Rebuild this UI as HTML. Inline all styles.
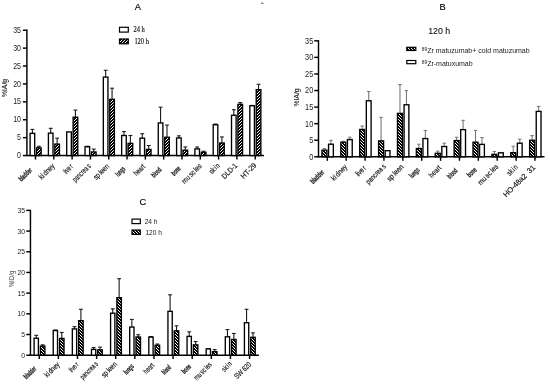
<!DOCTYPE html>
<html><head><meta charset="utf-8"><title>Biodistribution</title>
<style>html,body{margin:0;padding:0;background:#fff;width:550px;height:384px;overflow:hidden}svg{display:block}</style>
</head><body>
<svg width="550" height="384" viewBox="0 0 550 384">
<defs>
<pattern id="hA" patternUnits="userSpaceOnUse" x="0" y="0" width="3" height="3"><rect width="3" height="3" fill="#000"/><rect x="0" y="2" width="1" height="1" fill="#fff"/><rect x="1" y="1" width="1" height="1" fill="#fff"/><rect x="2" y="0" width="1" height="1" fill="#fff"/></pattern>
<pattern id="hB" patternUnits="userSpaceOnUse" x="0" y="0" width="3" height="3"><rect width="3" height="3" fill="#000"/><rect x="0" y="0" width="1" height="1" fill="#fff"/><rect x="1" y="1" width="1" height="1" fill="#fff"/><rect x="2" y="2" width="1" height="1" fill="#fff"/></pattern>
<pattern id="hC" patternUnits="userSpaceOnUse" x="0" y="0" width="3" height="3"><rect width="3" height="3" fill="#000"/><rect x="0" y="0" width="1" height="1" fill="#fff"/><rect x="1" y="1" width="1" height="1" fill="#fff"/><rect x="2" y="2" width="1" height="1" fill="#fff"/></pattern>
</defs>
<style>
.ax{stroke:#000;stroke-width:1.45;fill:none}
.bar{stroke:#000;stroke-width:1.35}
.eb{stroke:#1a1a1a;stroke-width:1.1}
.ebg{stroke:#7a7a7a;stroke-width:1.1}
.tl{font-family:'Liberation Sans', Arial, sans-serif;fill:#222}
.xl{font-family:'Liberation Sans', Arial, sans-serif;font-size:7.6px;fill:#1a1a1a;stroke:#1a1a1a;stroke-width:0.2px}
.xb{font-weight:bold}
.yt{font-family:'Liberation Sans', Arial, sans-serif;font-size:6.8px;fill:#1a1a1a;stroke:#1a1a1a;stroke-width:0.12px}
.ti{font-family:'Liberation Sans', Arial, sans-serif;font-size:9.3px;fill:#000;stroke:#000;stroke-width:0.15px}
.ti2{font-family:'Liberation Sans', Arial, sans-serif;font-size:8.8px;fill:#111;stroke:#111;stroke-width:0.1px}
.lg{font-family:'Liberation Sans', Arial, sans-serif;font-size:7px;fill:#222}
.lgs{font-family:'Liberation Serif', 'Times New Roman', serif;font-size:7.6px;fill:#111;stroke:#111;stroke-width:0.15px}
</style>
<rect width="550" height="384" fill="#fff"/>
<!-- Chart A -->
<text x="137.9" y="9.7" class="ti" text-anchor="middle">A</text>
<rect x="119.5" y="27.3" width="8.8" height="4.8" fill="#fff" stroke="#000" stroke-width="1.2"/>
<text x="133.5" y="32.2" class="lgs" textLength="11.3" lengthAdjust="spacingAndGlyphs">24 h</text>
<rect x="119.5" y="39" width="8.8" height="4.8" fill="url(#hA)" stroke="#000" stroke-width="1.2"/>
<text x="134.4" y="43.6" class="lgs" textLength="14.5" lengthAdjust="spacingAndGlyphs">120 h</text>
<rect x="261" y="2.7" width="2.5" height="1.1" fill="#666"/>
<text x="6.6" y="88" class="yt" text-anchor="middle" transform="rotate(-90 6.6 88)">%IA/g</text>
<line x1="26.90" y1="29.62" x2="26.90" y2="156.15" class="ax"/>
<line x1="22.90" y1="155.55" x2="26.90" y2="155.55" class="ax"/>
<text x="21.00" y="158.15" class="tl" font-size="8.3" text-anchor="end" textLength="3.92" lengthAdjust="spacingAndGlyphs">0</text>
<line x1="22.90" y1="137.65" x2="26.90" y2="137.65" class="ax"/>
<text x="21.00" y="140.25" class="tl" font-size="8.3" text-anchor="end" textLength="3.92" lengthAdjust="spacingAndGlyphs">5</text>
<line x1="22.90" y1="119.74" x2="26.90" y2="119.74" class="ax"/>
<text x="21.00" y="122.34" class="tl" font-size="8.3" text-anchor="end" textLength="7.85" lengthAdjust="spacingAndGlyphs">10</text>
<line x1="22.90" y1="101.84" x2="26.90" y2="101.84" class="ax"/>
<text x="21.00" y="104.44" class="tl" font-size="8.3" text-anchor="end" textLength="7.85" lengthAdjust="spacingAndGlyphs">15</text>
<line x1="22.90" y1="83.93" x2="26.90" y2="83.93" class="ax"/>
<text x="21.00" y="86.53" class="tl" font-size="8.3" text-anchor="end" textLength="7.85" lengthAdjust="spacingAndGlyphs">20</text>
<line x1="22.90" y1="66.03" x2="26.90" y2="66.03" class="ax"/>
<text x="21.00" y="68.62" class="tl" font-size="8.3" text-anchor="end" textLength="7.85" lengthAdjust="spacingAndGlyphs">25</text>
<line x1="22.90" y1="48.12" x2="26.90" y2="48.12" class="ax"/>
<text x="21.00" y="50.72" class="tl" font-size="8.3" text-anchor="end" textLength="7.85" lengthAdjust="spacingAndGlyphs">30</text>
<line x1="22.90" y1="30.22" x2="26.90" y2="30.22" class="ax"/>
<text x="21.00" y="32.82" class="tl" font-size="8.3" text-anchor="end" textLength="7.85" lengthAdjust="spacingAndGlyphs">35</text>
<line x1="26.30" y1="155.55" x2="264.00" y2="155.55" class="ax"/>
<line x1="32.40" y1="129.41" x2="32.40" y2="133.35" class="eb"/>
<line x1="30.50" y1="129.41" x2="34.30" y2="129.41" class="eb cap"/>
<rect x="30.10" y="133.35" width="4.60" height="22.20" fill="#fff" class="bar"/>
<line x1="38.83" y1="146.24" x2="38.83" y2="147.85" class="eb"/>
<line x1="36.93" y1="146.24" x2="40.73" y2="146.24" class="eb cap"/>
<rect x="36.50" y="147.85" width="4.65" height="7.70" fill="url(#hA)" class="bar"/>
<line x1="35.50" y1="155.55" x2="35.50" y2="159.55" class="ax"/>
<text id="labA0" x="32.57" y="170.86" class="xl xb" text-anchor="end" textLength="15.56" lengthAdjust="spacingAndGlyphs" transform="rotate(-45 32.57 170.86)">bladder</text>
<line x1="50.71" y1="128.33" x2="50.71" y2="133.17" class="eb"/>
<line x1="48.81" y1="128.33" x2="52.61" y2="128.33" class="eb cap"/>
<rect x="48.41" y="133.17" width="4.60" height="22.38" fill="#fff" class="bar"/>
<line x1="57.14" y1="138.18" x2="57.14" y2="144.09" class="eb"/>
<line x1="55.24" y1="138.18" x2="59.04" y2="138.18" class="eb cap"/>
<rect x="54.81" y="144.09" width="4.65" height="11.46" fill="url(#hA)" class="bar"/>
<line x1="53.81" y1="155.55" x2="53.81" y2="159.55" class="ax"/>
<text id="labA1" x="55.24" y="166.51" class="xl" text-anchor="end" textLength="18.96" lengthAdjust="spacingAndGlyphs" transform="rotate(-45 55.24 166.51)"><tspan>ki</tspan><tspan dx="1.3">dney</tspan></text>
<rect x="66.72" y="131.92" width="4.60" height="23.63" fill="#fff" class="bar"/>
<line x1="75.44" y1="110.07" x2="75.44" y2="117.23" class="eb"/>
<line x1="73.54" y1="110.07" x2="77.34" y2="110.07" class="eb cap"/>
<rect x="73.12" y="117.23" width="4.65" height="38.32" fill="url(#hA)" class="bar"/>
<line x1="72.12" y1="155.55" x2="72.12" y2="159.55" class="ax"/>
<text id="labA2" x="73.56" y="167.13" class="xl" text-anchor="end" textLength="10.35" lengthAdjust="spacingAndGlyphs" transform="rotate(-45 73.56 167.13)"><tspan>live</tspan><tspan dx="1.3">r</tspan></text>
<line x1="87.33" y1="146.24" x2="87.33" y2="146.78" class="eb"/>
<line x1="85.43" y1="146.24" x2="89.23" y2="146.24" class="eb cap"/>
<rect x="85.03" y="146.78" width="4.60" height="8.77" fill="#fff" class="bar"/>
<line x1="93.75" y1="149.10" x2="93.75" y2="151.97" class="eb"/>
<line x1="91.85" y1="149.10" x2="95.66" y2="149.10" class="eb cap"/>
<rect x="91.43" y="151.97" width="4.65" height="3.58" fill="url(#hA)" class="bar"/>
<line x1="90.43" y1="155.55" x2="90.43" y2="159.55" class="ax"/>
<text id="labA3" x="91.41" y="166.57" class="xl" text-anchor="end" textLength="22.66" lengthAdjust="spacingAndGlyphs" transform="rotate(-45 91.41 166.57)"><tspan>pancrea</tspan><tspan dx="1.6">s</tspan></text>
<line x1="105.64" y1="70.32" x2="105.64" y2="77.13" class="eb"/>
<line x1="103.74" y1="70.32" x2="107.54" y2="70.32" class="eb cap"/>
<rect x="103.34" y="77.13" width="4.60" height="78.42" fill="#fff" class="bar"/>
<line x1="112.06" y1="88.23" x2="112.06" y2="99.33" class="eb"/>
<line x1="110.16" y1="88.23" x2="113.97" y2="88.23" class="eb cap"/>
<rect x="109.74" y="99.33" width="4.65" height="56.22" fill="url(#hA)" class="bar"/>
<line x1="108.74" y1="155.55" x2="108.74" y2="159.55" class="ax"/>
<text id="labA4" x="109.57" y="166.92" class="xl" text-anchor="end" textLength="18.95" lengthAdjust="spacingAndGlyphs" transform="rotate(-45 109.57 166.92)"><tspan>sp</tspan><tspan dx="1.3">leen</tspan></text>
<line x1="123.95" y1="131.56" x2="123.95" y2="135.50" class="eb"/>
<line x1="122.05" y1="131.56" x2="125.85" y2="131.56" class="eb cap"/>
<rect x="121.65" y="135.50" width="4.60" height="20.05" fill="#fff" class="bar"/>
<line x1="130.38" y1="135.50" x2="130.38" y2="143.37" class="eb"/>
<line x1="128.47" y1="135.50" x2="132.28" y2="135.50" class="eb cap"/>
<rect x="128.05" y="143.37" width="4.65" height="12.18" fill="url(#hA)" class="bar"/>
<line x1="127.05" y1="155.55" x2="127.05" y2="159.55" class="ax"/>
<text id="labA5" x="125.89" y="169.46" class="xl xb" text-anchor="end" textLength="10.63" lengthAdjust="spacingAndGlyphs" transform="rotate(-45 125.89 169.46)">lungs</text>
<line x1="142.26" y1="133.71" x2="142.26" y2="138.18" class="eb"/>
<line x1="140.36" y1="133.71" x2="144.16" y2="133.71" class="eb cap"/>
<rect x="139.96" y="138.18" width="4.60" height="17.37" fill="#fff" class="bar"/>
<line x1="148.69" y1="145.52" x2="148.69" y2="149.46" class="eb"/>
<line x1="146.78" y1="145.52" x2="150.59" y2="145.52" class="eb cap"/>
<rect x="146.36" y="149.46" width="4.65" height="6.09" fill="url(#hA)" class="bar"/>
<line x1="145.36" y1="155.55" x2="145.36" y2="159.55" class="ax"/>
<text id="labA6" x="145.65" y="167.26" class="xl" text-anchor="end" textLength="12.82" lengthAdjust="spacingAndGlyphs" transform="rotate(-45 145.65 167.26)">heart</text>
<line x1="160.57" y1="107.21" x2="160.57" y2="122.96" class="eb"/>
<line x1="158.67" y1="107.21" x2="162.47" y2="107.21" class="eb cap"/>
<rect x="158.27" y="122.96" width="4.60" height="32.59" fill="#fff" class="bar"/>
<line x1="167.00" y1="125.11" x2="167.00" y2="137.29" class="eb"/>
<line x1="165.09" y1="125.11" x2="168.90" y2="125.11" class="eb cap"/>
<rect x="164.67" y="137.29" width="4.65" height="18.26" fill="url(#hA)" class="bar"/>
<line x1="163.67" y1="155.55" x2="163.67" y2="159.55" class="ax"/>
<text id="labA7" x="162.02" y="170.30" class="xl xb" text-anchor="end" textLength="10.91" lengthAdjust="spacingAndGlyphs" transform="rotate(-45 162.02 170.30)">blood</text>
<line x1="178.88" y1="135.85" x2="178.88" y2="138.00" class="eb"/>
<line x1="176.98" y1="135.85" x2="180.78" y2="135.85" class="eb cap"/>
<rect x="176.58" y="138.00" width="4.60" height="17.55" fill="#fff" class="bar"/>
<line x1="185.31" y1="146.96" x2="185.31" y2="150.18" class="eb"/>
<line x1="183.41" y1="146.96" x2="187.21" y2="146.96" class="eb cap"/>
<rect x="182.98" y="150.18" width="4.65" height="5.37" fill="url(#hA)" class="bar"/>
<line x1="181.98" y1="155.55" x2="181.98" y2="159.55" class="ax"/>
<text id="labA8" x="181.21" y="169.07" class="xl xb" text-anchor="end" textLength="10.00" lengthAdjust="spacingAndGlyphs" transform="rotate(-45 181.21 169.07)">bone</text>
<line x1="197.19" y1="146.96" x2="197.19" y2="148.93" class="eb"/>
<line x1="195.29" y1="146.96" x2="199.09" y2="146.96" class="eb cap"/>
<rect x="194.89" y="148.93" width="4.60" height="6.62" fill="#fff" class="bar"/>
<line x1="203.62" y1="151.25" x2="203.62" y2="152.33" class="eb"/>
<line x1="201.72" y1="151.25" x2="205.52" y2="151.25" class="eb cap"/>
<rect x="201.29" y="152.33" width="4.65" height="3.22" fill="url(#hA)" class="bar"/>
<line x1="200.29" y1="155.55" x2="200.29" y2="159.55" class="ax"/>
<text id="labA9" x="202.24" y="166.60" class="xl" text-anchor="end" textLength="24.93" lengthAdjust="spacingAndGlyphs" transform="rotate(-45 202.24 166.60)"><tspan>mu</tspan><tspan dx="1.3">sc</tspan><tspan dx="1.3">les</tspan></text>
<line x1="215.50" y1="124.04" x2="215.50" y2="124.75" class="eb"/>
<line x1="213.60" y1="124.04" x2="217.40" y2="124.04" class="eb cap"/>
<rect x="213.20" y="124.75" width="4.60" height="30.80" fill="#fff" class="bar"/>
<line x1="221.93" y1="136.93" x2="221.93" y2="143.02" class="eb"/>
<line x1="220.03" y1="136.93" x2="223.83" y2="136.93" class="eb cap"/>
<rect x="219.60" y="143.02" width="4.65" height="12.53" fill="url(#hA)" class="bar"/>
<line x1="218.60" y1="155.55" x2="218.60" y2="159.55" class="ax"/>
<text id="labA10" x="220.27" y="166.18" class="xl" text-anchor="end" textLength="11.65" lengthAdjust="spacingAndGlyphs" transform="rotate(-45 220.27 166.18)"><tspan>sk</tspan><tspan dx="0.9">i</tspan><tspan dx="0.9">n</tspan></text>
<line x1="233.81" y1="109.71" x2="233.81" y2="115.26" class="eb"/>
<line x1="231.91" y1="109.71" x2="235.71" y2="109.71" class="eb cap"/>
<rect x="231.51" y="115.26" width="4.60" height="40.29" fill="#fff" class="bar"/>
<line x1="240.24" y1="102.55" x2="240.24" y2="104.34" class="eb"/>
<line x1="238.34" y1="102.55" x2="242.14" y2="102.55" class="eb cap"/>
<rect x="237.91" y="104.34" width="4.65" height="51.21" fill="url(#hA)" class="bar"/>
<line x1="236.91" y1="155.55" x2="236.91" y2="159.55" class="ax"/>
<text id="labA11" x="237.83" y="166.23" class="xl" text-anchor="end" textLength="18.64" lengthAdjust="spacingAndGlyphs" transform="rotate(-45 237.83 166.23)">DLD-1</text>
<line x1="252.12" y1="105.42" x2="252.12" y2="105.77" class="eb"/>
<line x1="250.22" y1="105.42" x2="254.02" y2="105.42" class="eb cap"/>
<rect x="249.82" y="105.77" width="4.60" height="49.78" fill="#fff" class="bar"/>
<line x1="258.54" y1="84.29" x2="258.54" y2="89.66" class="eb"/>
<line x1="256.64" y1="84.29" x2="260.44" y2="84.29" class="eb cap"/>
<rect x="256.22" y="89.66" width="4.65" height="65.89" fill="url(#hA)" class="bar"/>
<line x1="255.22" y1="155.55" x2="255.22" y2="159.55" class="ax"/>
<text id="labA12" x="256.98" y="165.96" class="xl" text-anchor="end" textLength="18.63" lengthAdjust="spacingAndGlyphs" transform="rotate(-45 256.98 165.96)">HT-29</text>
<!-- Chart B -->
<text x="442.6" y="9.7" class="ti" text-anchor="middle">B</text>
<text x="428.2" y="33.5" class="ti2">120 h</text>
<rect x="406.8" y="47.3" width="9" height="3.2" fill="url(#hB)" stroke="#000" stroke-width="1.2"/>
<text x="421.8" y="53.3" class="lg"><tspan font-size="4.8px" dy="-2.6">89</tspan><tspan dy="2.6">Zr matuzumab+ cold matuzumab</tspan></text>
<rect x="406.8" y="60.5" width="9" height="3.2" fill="#fff" stroke="#000" stroke-width="1.2"/>
<text x="421.8" y="66.1" class="lg"><tspan font-size="4.8px" dy="-2.6">89</tspan><tspan dy="2.6">Zr-matuxumab</tspan></text>
<text x="299.4" y="97.5" class="yt" text-anchor="middle" transform="rotate(-90 299.4 97.5)">%IA/g</text>
<line x1="318.50" y1="40.21" x2="318.50" y2="157.40" class="ax"/>
<line x1="314.20" y1="156.80" x2="318.50" y2="156.80" class="ax"/>
<text x="313.20" y="159.70" class="tl" font-size="8.6" text-anchor="end" textLength="4.06" lengthAdjust="spacingAndGlyphs">0</text>
<line x1="314.20" y1="140.23" x2="318.50" y2="140.23" class="ax"/>
<text x="313.20" y="143.13" class="tl" font-size="8.6" text-anchor="end" textLength="4.06" lengthAdjust="spacingAndGlyphs">5</text>
<line x1="314.20" y1="123.66" x2="318.50" y2="123.66" class="ax"/>
<text x="313.20" y="126.56" class="tl" font-size="8.6" text-anchor="end" textLength="8.13" lengthAdjust="spacingAndGlyphs">10</text>
<line x1="314.20" y1="107.09" x2="318.50" y2="107.09" class="ax"/>
<text x="313.20" y="109.99" class="tl" font-size="8.6" text-anchor="end" textLength="8.13" lengthAdjust="spacingAndGlyphs">15</text>
<line x1="314.20" y1="90.52" x2="318.50" y2="90.52" class="ax"/>
<text x="313.20" y="93.42" class="tl" font-size="8.6" text-anchor="end" textLength="8.13" lengthAdjust="spacingAndGlyphs">20</text>
<line x1="314.20" y1="73.95" x2="318.50" y2="73.95" class="ax"/>
<text x="313.20" y="76.85" class="tl" font-size="8.6" text-anchor="end" textLength="8.13" lengthAdjust="spacingAndGlyphs">25</text>
<line x1="314.20" y1="57.38" x2="318.50" y2="57.38" class="ax"/>
<text x="313.20" y="60.28" class="tl" font-size="8.6" text-anchor="end" textLength="8.13" lengthAdjust="spacingAndGlyphs">30</text>
<line x1="314.20" y1="40.81" x2="318.50" y2="40.81" class="ax"/>
<text x="313.20" y="43.71" class="tl" font-size="8.6" text-anchor="end" textLength="8.13" lengthAdjust="spacingAndGlyphs">35</text>
<line x1="317.90" y1="156.80" x2="544.50" y2="156.80" class="ax"/>
<line x1="324.45" y1="148.52" x2="324.45" y2="150.17" class="ebg"/>
<line x1="322.75" y1="148.52" x2="326.15" y2="148.52" class="ebg cap"/>
<rect x="321.95" y="150.17" width="5.00" height="6.63" fill="url(#hB)" class="bar"/>
<line x1="330.95" y1="140.40" x2="330.95" y2="144.21" class="ebg"/>
<line x1="329.25" y1="140.40" x2="332.65" y2="140.40" class="ebg cap"/>
<rect x="328.55" y="144.21" width="4.80" height="12.59" fill="#fff" class="bar"/>
<line x1="327.30" y1="156.80" x2="327.30" y2="160.80" class="ax"/>
<text id="labB0" x="324.67" y="172.78" class="xl xb" text-anchor="end" textLength="16.26" lengthAdjust="spacingAndGlyphs" transform="rotate(-45 324.67 172.78)">bladder</text>
<line x1="343.33" y1="141.39" x2="343.33" y2="142.22" class="ebg"/>
<line x1="341.63" y1="141.39" x2="345.03" y2="141.39" class="ebg cap"/>
<rect x="340.83" y="142.22" width="5.00" height="14.58" fill="url(#hB)" class="bar"/>
<line x1="349.83" y1="137.25" x2="349.83" y2="139.57" class="ebg"/>
<line x1="348.13" y1="137.25" x2="351.53" y2="137.25" class="ebg cap"/>
<rect x="347.43" y="139.57" width="4.80" height="17.23" fill="#fff" class="bar"/>
<line x1="346.18" y1="156.80" x2="346.18" y2="160.80" class="ax"/>
<text id="labB1" x="347.77" y="167.61" class="xl" text-anchor="end" textLength="19.30" lengthAdjust="spacingAndGlyphs" transform="rotate(-45 347.77 167.61)"><tspan>ki</tspan><tspan dx="1.3">dney</tspan></text>
<line x1="362.21" y1="125.98" x2="362.21" y2="129.46" class="ebg"/>
<line x1="360.51" y1="125.98" x2="363.91" y2="125.98" class="ebg cap"/>
<rect x="359.71" y="129.46" width="5.00" height="27.34" fill="url(#hB)" class="bar"/>
<line x1="368.71" y1="91.51" x2="368.71" y2="100.79" class="ebg"/>
<line x1="367.01" y1="91.51" x2="370.41" y2="91.51" class="ebg cap"/>
<rect x="366.31" y="100.79" width="4.80" height="56.01" fill="#fff" class="bar"/>
<line x1="365.06" y1="156.80" x2="365.06" y2="160.80" class="ax"/>
<text id="labB2" x="366.56" y="168.70" class="xl" text-anchor="end" textLength="11.55" lengthAdjust="spacingAndGlyphs" transform="rotate(-45 366.56 168.70)"><tspan>live</tspan><tspan dx="1.3">r</tspan></text>
<line x1="381.09" y1="117.36" x2="381.09" y2="140.89" class="ebg"/>
<line x1="379.39" y1="117.36" x2="382.79" y2="117.36" class="ebg cap"/>
<rect x="378.59" y="140.89" width="5.00" height="15.91" fill="url(#hB)" class="bar"/>
<rect x="385.19" y="150.67" width="4.80" height="6.13" fill="#fff" class="bar"/>
<line x1="383.94" y1="156.80" x2="383.94" y2="160.80" class="ax"/>
<text id="labB3" x="386.26" y="167.08" class="xl" text-anchor="end" textLength="24.91" lengthAdjust="spacingAndGlyphs" transform="rotate(-45 386.26 167.08)"><tspan>pancrea</tspan><tspan dx="1.6">s</tspan></text>
<line x1="399.97" y1="84.55" x2="399.97" y2="113.39" class="ebg"/>
<line x1="398.27" y1="84.55" x2="401.67" y2="84.55" class="ebg cap"/>
<rect x="397.47" y="113.39" width="5.00" height="43.41" fill="url(#hB)" class="bar"/>
<line x1="406.47" y1="90.52" x2="406.47" y2="104.77" class="ebg"/>
<line x1="404.77" y1="90.52" x2="408.17" y2="90.52" class="ebg cap"/>
<rect x="404.07" y="104.77" width="4.80" height="52.03" fill="#fff" class="bar"/>
<line x1="402.82" y1="156.80" x2="402.82" y2="160.80" class="ax"/>
<text id="labB4" x="404.10" y="167.42" class="xl" text-anchor="end" textLength="20.25" lengthAdjust="spacingAndGlyphs" transform="rotate(-45 404.10 167.42)"><tspan>sp</tspan><tspan dx="1.3">leen</tspan></text>
<line x1="418.85" y1="144.21" x2="418.85" y2="148.52" class="ebg"/>
<line x1="417.15" y1="144.21" x2="420.55" y2="144.21" class="ebg cap"/>
<rect x="416.35" y="148.52" width="5.00" height="8.28" fill="url(#hB)" class="bar"/>
<line x1="425.35" y1="130.45" x2="425.35" y2="138.57" class="ebg"/>
<line x1="423.65" y1="130.45" x2="427.05" y2="130.45" class="ebg cap"/>
<rect x="422.95" y="138.57" width="4.80" height="18.23" fill="#fff" class="bar"/>
<line x1="421.70" y1="156.80" x2="421.70" y2="160.80" class="ax"/>
<text id="labB5" x="420.15" y="170.50" class="xl xb" text-anchor="end" textLength="11.47" lengthAdjust="spacingAndGlyphs" transform="rotate(-45 420.15 170.50)">lungs</text>
<line x1="437.73" y1="151.17" x2="437.73" y2="153.32" class="ebg"/>
<line x1="436.03" y1="151.17" x2="439.43" y2="151.17" class="ebg cap"/>
<rect x="435.23" y="153.32" width="5.00" height="3.48" fill="url(#hB)" class="bar"/>
<line x1="444.23" y1="143.21" x2="444.23" y2="146.53" class="ebg"/>
<line x1="442.53" y1="143.21" x2="445.93" y2="143.21" class="ebg cap"/>
<rect x="441.83" y="146.53" width="4.80" height="10.27" fill="#fff" class="bar"/>
<line x1="440.58" y1="156.80" x2="440.58" y2="160.80" class="ax"/>
<text id="labB6" x="441.68" y="168.42" class="xl" text-anchor="end" textLength="13.86" lengthAdjust="spacingAndGlyphs" transform="rotate(-45 441.68 168.42)">heart</text>
<line x1="456.61" y1="137.25" x2="456.61" y2="140.56" class="ebg"/>
<line x1="454.91" y1="137.25" x2="458.31" y2="137.25" class="ebg cap"/>
<rect x="454.11" y="140.56" width="5.00" height="16.24" fill="url(#hB)" class="bar"/>
<line x1="463.11" y1="120.35" x2="463.11" y2="129.63" class="ebg"/>
<line x1="461.41" y1="120.35" x2="464.81" y2="120.35" class="ebg cap"/>
<rect x="460.71" y="129.63" width="4.80" height="27.17" fill="#fff" class="bar"/>
<line x1="459.46" y1="156.80" x2="459.46" y2="160.80" class="ax"/>
<text id="labB7" x="458.17" y="171.08" class="xl xb" text-anchor="end" textLength="11.42" lengthAdjust="spacingAndGlyphs" transform="rotate(-45 458.17 171.08)">blood</text>
<line x1="475.49" y1="130.45" x2="475.49" y2="142.22" class="ebg"/>
<line x1="473.79" y1="130.45" x2="477.19" y2="130.45" class="ebg cap"/>
<rect x="472.99" y="142.22" width="5.00" height="14.58" fill="url(#hB)" class="bar"/>
<line x1="481.99" y1="137.58" x2="481.99" y2="144.37" class="ebg"/>
<line x1="480.29" y1="137.58" x2="483.69" y2="137.58" class="ebg cap"/>
<rect x="479.59" y="144.37" width="4.80" height="12.43" fill="#fff" class="bar"/>
<line x1="478.34" y1="156.80" x2="478.34" y2="160.80" class="ax"/>
<text id="labB8" x="477.16" y="170.46" class="xl xb" text-anchor="end" textLength="10.42" lengthAdjust="spacingAndGlyphs" transform="rotate(-45 477.16 170.46)">bone</text>
<line x1="494.37" y1="151.50" x2="494.37" y2="154.41" class="ebg"/>
<line x1="492.67" y1="151.50" x2="496.07" y2="151.50" class="ebg cap"/>
<rect x="491.87" y="154.41" width="5.00" height="2.39" fill="url(#hB)" class="bar"/>
<line x1="500.87" y1="152.49" x2="500.87" y2="152.82" class="ebg"/>
<line x1="499.17" y1="152.49" x2="502.57" y2="152.49" class="ebg cap"/>
<rect x="498.47" y="152.82" width="4.80" height="3.98" fill="#fff" class="bar"/>
<line x1="497.22" y1="156.80" x2="497.22" y2="160.80" class="ax"/>
<text id="labB9" x="498.88" y="167.24" class="xl" text-anchor="end" textLength="25.78" lengthAdjust="spacingAndGlyphs" transform="rotate(-45 498.88 167.24)"><tspan>mu</tspan><tspan dx="1.3">sc</tspan><tspan dx="1.3">les</tspan></text>
<line x1="513.25" y1="146.20" x2="513.25" y2="152.66" class="ebg"/>
<line x1="511.55" y1="146.20" x2="514.95" y2="146.20" class="ebg cap"/>
<rect x="510.75" y="152.66" width="5.00" height="4.14" fill="url(#hB)" class="bar"/>
<line x1="519.75" y1="139.24" x2="519.75" y2="143.21" class="ebg"/>
<line x1="518.05" y1="139.24" x2="521.45" y2="139.24" class="ebg cap"/>
<rect x="517.35" y="143.21" width="4.80" height="13.59" fill="#fff" class="bar"/>
<line x1="516.10" y1="156.80" x2="516.10" y2="160.80" class="ax"/>
<text id="labB10" x="518.27" y="167.63" class="xl" text-anchor="end" textLength="12.06" lengthAdjust="spacingAndGlyphs" transform="rotate(-45 518.27 167.63)"><tspan>sk</tspan><tspan dx="0.9">i</tspan><tspan dx="0.9">n</tspan></text>
<line x1="532.13" y1="135.59" x2="532.13" y2="140.23" class="ebg"/>
<line x1="530.43" y1="135.59" x2="533.83" y2="135.59" class="ebg cap"/>
<rect x="529.63" y="140.23" width="5.00" height="16.57" fill="url(#hB)" class="bar"/>
<line x1="538.63" y1="106.43" x2="538.63" y2="111.40" class="ebg"/>
<line x1="536.93" y1="106.43" x2="540.33" y2="106.43" class="ebg cap"/>
<rect x="536.23" y="111.40" width="4.80" height="45.40" fill="#fff" class="bar"/>
<line x1="534.98" y1="156.80" x2="534.98" y2="160.80" class="ax"/>
<text id="labB11" x="535.88" y="168.00" class="xl" text-anchor="end" textLength="41.81" lengthAdjust="spacingAndGlyphs" transform="rotate(-45 535.88 168.00)"><tspan>HO-48a2</tspan><tspan dx="4.0">31</tspan></text>
<!-- Chart C -->
<text x="142.75" y="204.8" class="ti" text-anchor="middle">C</text>
<rect x="132" y="219.1" width="8.3" height="4.5" fill="#fff" stroke="#000" stroke-width="1.2"/>
<text x="144.7" y="224.0" class="lg" style="font-size:6.6px">24 h</text>
<rect x="132" y="230" width="8.3" height="4.4" fill="url(#hC)" stroke="#000" stroke-width="1.2"/>
<text x="145.4" y="234.9" class="lg" style="font-size:6.6px">120 h</text>
<text x="13.6" y="279" class="yt" style="font-size:6.7px;fill:#444;stroke:none" textLength="16.6" lengthAdjust="spacingAndGlyphs" text-anchor="middle" transform="rotate(-90 13.6 279)">%ID/g</text>
<line x1="30.45" y1="209.81" x2="30.45" y2="355.80" class="ax"/>
<line x1="26.25" y1="355.20" x2="30.45" y2="355.20" class="ax"/>
<text x="25.05" y="357.80" class="tl" font-size="8.0" text-anchor="end" textLength="3.78" lengthAdjust="spacingAndGlyphs">0</text>
<line x1="26.25" y1="334.51" x2="30.45" y2="334.51" class="ax"/>
<text x="25.05" y="337.12" class="tl" font-size="8.0" text-anchor="end" textLength="3.78" lengthAdjust="spacingAndGlyphs">5</text>
<line x1="26.25" y1="313.83" x2="30.45" y2="313.83" class="ax"/>
<text x="25.05" y="316.43" class="tl" font-size="8.0" text-anchor="end" textLength="7.56" lengthAdjust="spacingAndGlyphs">10</text>
<line x1="26.25" y1="293.14" x2="30.45" y2="293.14" class="ax"/>
<text x="25.05" y="295.75" class="tl" font-size="8.0" text-anchor="end" textLength="7.56" lengthAdjust="spacingAndGlyphs">15</text>
<line x1="26.25" y1="272.46" x2="30.45" y2="272.46" class="ax"/>
<text x="25.05" y="275.06" class="tl" font-size="8.0" text-anchor="end" textLength="7.56" lengthAdjust="spacingAndGlyphs">20</text>
<line x1="26.25" y1="251.78" x2="30.45" y2="251.78" class="ax"/>
<text x="25.05" y="254.38" class="tl" font-size="8.0" text-anchor="end" textLength="7.56" lengthAdjust="spacingAndGlyphs">25</text>
<line x1="26.25" y1="231.09" x2="30.45" y2="231.09" class="ax"/>
<text x="25.05" y="233.69" class="tl" font-size="8.0" text-anchor="end" textLength="7.56" lengthAdjust="spacingAndGlyphs">30</text>
<line x1="26.25" y1="210.41" x2="30.45" y2="210.41" class="ax"/>
<text x="25.05" y="213.00" class="tl" font-size="8.0" text-anchor="end" textLength="7.56" lengthAdjust="spacingAndGlyphs">35</text>
<line x1="29.85" y1="355.20" x2="258.90" y2="355.20" class="ax"/>
<line x1="36.25" y1="335.34" x2="36.25" y2="338.24" class="eb"/>
<line x1="34.35" y1="335.34" x2="38.15" y2="335.34" class="eb cap"/>
<rect x="34.10" y="338.24" width="4.30" height="16.96" fill="#fff" class="bar"/>
<line x1="42.65" y1="344.86" x2="42.65" y2="346.10" class="eb"/>
<line x1="40.75" y1="344.86" x2="44.55" y2="344.86" class="eb cap"/>
<rect x="40.40" y="346.10" width="4.50" height="9.10" fill="url(#hC)" class="bar"/>
<line x1="39.25" y1="355.20" x2="39.25" y2="359.00" class="ax"/>
<text id="labC0" x="36.87" y="369.23" class="xl xb" text-anchor="end" textLength="14.57" lengthAdjust="spacingAndGlyphs" transform="rotate(-45 36.87 369.23)">bladder</text>
<line x1="55.37" y1="329.96" x2="55.37" y2="330.58" class="eb"/>
<line x1="53.47" y1="329.96" x2="57.27" y2="329.96" class="eb cap"/>
<rect x="53.22" y="330.58" width="4.30" height="24.62" fill="#fff" class="bar"/>
<line x1="61.77" y1="332.45" x2="61.77" y2="338.45" class="eb"/>
<line x1="59.87" y1="332.45" x2="63.67" y2="332.45" class="eb cap"/>
<rect x="59.52" y="338.45" width="4.50" height="16.75" fill="url(#hC)" class="bar"/>
<line x1="58.37" y1="355.20" x2="58.37" y2="359.00" class="ax"/>
<text id="labC1" x="60.01" y="365.15" class="xl" text-anchor="end" textLength="17.86" lengthAdjust="spacingAndGlyphs" transform="rotate(-45 60.01 365.15)"><tspan>ki</tspan><tspan dx="1.3">dney</tspan></text>
<line x1="74.49" y1="326.65" x2="74.49" y2="328.93" class="eb"/>
<line x1="72.59" y1="326.65" x2="76.39" y2="326.65" class="eb cap"/>
<rect x="72.34" y="328.93" width="4.30" height="26.27" fill="#fff" class="bar"/>
<line x1="80.89" y1="309.28" x2="80.89" y2="320.66" class="eb"/>
<line x1="78.99" y1="309.28" x2="82.79" y2="309.28" class="eb cap"/>
<rect x="78.64" y="320.66" width="4.50" height="34.54" fill="url(#hC)" class="bar"/>
<line x1="77.49" y1="355.20" x2="77.49" y2="359.00" class="ax"/>
<text id="labC2" x="79.38" y="365.16" class="xl" text-anchor="end" textLength="10.75" lengthAdjust="spacingAndGlyphs" transform="rotate(-45 79.38 365.16)"><tspan>live</tspan><tspan dx="1.3">r</tspan></text>
<line x1="93.61" y1="347.55" x2="93.61" y2="349.41" class="eb"/>
<line x1="91.71" y1="347.55" x2="95.51" y2="347.55" class="eb cap"/>
<rect x="91.46" y="349.41" width="4.30" height="5.79" fill="#fff" class="bar"/>
<line x1="100.01" y1="347.13" x2="100.01" y2="349.82" class="eb"/>
<line x1="98.11" y1="347.13" x2="101.91" y2="347.13" class="eb cap"/>
<rect x="97.76" y="349.82" width="4.50" height="5.38" fill="url(#hC)" class="bar"/>
<line x1="96.61" y1="355.20" x2="96.61" y2="359.00" class="ax"/>
<text id="labC3" x="98.58" y="364.58" class="xl" text-anchor="end" textLength="21.87" lengthAdjust="spacingAndGlyphs" transform="rotate(-45 98.58 364.58)"><tspan>pancrea</tspan><tspan dx="1.6">s</tspan></text>
<line x1="112.73" y1="308.87" x2="112.73" y2="313.21" class="eb"/>
<line x1="110.83" y1="308.87" x2="114.63" y2="308.87" class="eb cap"/>
<rect x="110.58" y="313.21" width="4.30" height="41.99" fill="#fff" class="bar"/>
<line x1="119.13" y1="278.67" x2="119.13" y2="297.70" class="eb"/>
<line x1="117.23" y1="278.67" x2="121.03" y2="278.67" class="eb cap"/>
<rect x="116.88" y="297.70" width="4.50" height="57.50" fill="url(#hC)" class="bar"/>
<line x1="115.73" y1="355.20" x2="115.73" y2="359.00" class="ax"/>
<text id="labC4" x="117.57" y="364.68" class="xl" text-anchor="end" textLength="18.92" lengthAdjust="spacingAndGlyphs" transform="rotate(-45 117.57 364.68)"><tspan>sp</tspan><tspan dx="1.3">leen</tspan></text>
<line x1="131.85" y1="319.41" x2="131.85" y2="327.07" class="eb"/>
<line x1="129.95" y1="319.41" x2="133.75" y2="319.41" class="eb cap"/>
<rect x="129.70" y="327.07" width="4.30" height="28.13" fill="#fff" class="bar"/>
<line x1="138.25" y1="334.72" x2="138.25" y2="337.00" class="eb"/>
<line x1="136.35" y1="334.72" x2="140.15" y2="334.72" class="eb cap"/>
<rect x="136.00" y="337.00" width="4.50" height="18.20" fill="url(#hC)" class="bar"/>
<line x1="134.85" y1="355.20" x2="134.85" y2="359.00" class="ax"/>
<text id="labC5" x="134.57" y="366.93" class="xl xb" text-anchor="end" textLength="11.47" lengthAdjust="spacingAndGlyphs" transform="rotate(-45 134.57 366.93)">lungs</text>
<line x1="150.97" y1="336.58" x2="150.97" y2="337.12" class="eb"/>
<line x1="149.07" y1="336.58" x2="152.87" y2="336.58" class="eb cap"/>
<rect x="148.82" y="337.12" width="4.30" height="18.08" fill="#fff" class="bar"/>
<line x1="157.37" y1="344.03" x2="157.37" y2="345.27" class="eb"/>
<line x1="155.47" y1="344.03" x2="159.27" y2="344.03" class="eb cap"/>
<rect x="155.12" y="345.27" width="4.50" height="9.93" fill="url(#hC)" class="bar"/>
<line x1="153.97" y1="355.20" x2="153.97" y2="359.00" class="ax"/>
<text id="labC6" x="154.89" y="365.86" class="xl" text-anchor="end" textLength="12.17" lengthAdjust="spacingAndGlyphs" transform="rotate(-45 154.89 365.86)">heart</text>
<line x1="170.09" y1="294.80" x2="170.09" y2="311.35" class="eb"/>
<line x1="168.19" y1="294.80" x2="171.99" y2="294.80" class="eb cap"/>
<rect x="167.94" y="311.35" width="4.30" height="43.85" fill="#fff" class="bar"/>
<line x1="176.49" y1="325.83" x2="176.49" y2="330.79" class="eb"/>
<line x1="174.59" y1="325.83" x2="178.39" y2="325.83" class="eb cap"/>
<rect x="174.24" y="330.79" width="4.50" height="24.41" fill="url(#hC)" class="bar"/>
<line x1="173.09" y1="355.20" x2="173.09" y2="359.00" class="ax"/>
<text id="labC7" x="171.69" y="368.00" class="xl xb" text-anchor="end" textLength="10.02" lengthAdjust="spacingAndGlyphs" transform="rotate(-45 171.69 368.00)">blood</text>
<line x1="189.21" y1="331.83" x2="189.21" y2="336.38" class="eb"/>
<line x1="187.31" y1="331.83" x2="191.11" y2="331.83" class="eb cap"/>
<rect x="187.06" y="336.38" width="4.30" height="18.82" fill="#fff" class="bar"/>
<line x1="195.61" y1="341.55" x2="195.61" y2="344.86" class="eb"/>
<line x1="193.71" y1="341.55" x2="197.51" y2="341.55" class="eb cap"/>
<rect x="193.36" y="344.86" width="4.50" height="10.34" fill="url(#hC)" class="bar"/>
<line x1="192.21" y1="355.20" x2="192.21" y2="359.00" class="ax"/>
<text id="labC8" x="191.74" y="367.07" class="xl xb" text-anchor="end" textLength="10.18" lengthAdjust="spacingAndGlyphs" transform="rotate(-45 191.74 367.07)">bone</text>
<line x1="208.33" y1="348.58" x2="208.33" y2="348.91" class="eb"/>
<line x1="206.43" y1="348.58" x2="210.23" y2="348.58" class="eb cap"/>
<rect x="206.18" y="348.91" width="4.30" height="6.29" fill="#fff" class="bar"/>
<line x1="214.73" y1="349.62" x2="214.73" y2="351.68" class="eb"/>
<line x1="212.83" y1="349.62" x2="216.63" y2="349.62" class="eb cap"/>
<rect x="212.48" y="351.68" width="4.50" height="3.52" fill="url(#hC)" class="bar"/>
<line x1="211.33" y1="355.20" x2="211.33" y2="359.00" class="ax"/>
<text id="labC9" x="212.27" y="365.14" class="xl" text-anchor="end" textLength="22.04" lengthAdjust="spacingAndGlyphs" transform="rotate(-45 212.27 365.14)"><tspan>mu</tspan><tspan dx="1.3">sc</tspan><tspan dx="1.3">les</tspan></text>
<line x1="227.45" y1="329.55" x2="227.45" y2="336.79" class="eb"/>
<line x1="225.55" y1="329.55" x2="229.35" y2="329.55" class="eb cap"/>
<rect x="225.30" y="336.79" width="4.30" height="18.41" fill="#fff" class="bar"/>
<line x1="233.85" y1="333.48" x2="233.85" y2="339.48" class="eb"/>
<line x1="231.95" y1="333.48" x2="235.75" y2="333.48" class="eb cap"/>
<rect x="231.60" y="339.48" width="4.50" height="15.72" fill="url(#hC)" class="bar"/>
<line x1="230.45" y1="355.20" x2="230.45" y2="359.00" class="ax"/>
<text id="labC10" x="232.31" y="364.34" class="xl" text-anchor="end" textLength="11.04" lengthAdjust="spacingAndGlyphs" transform="rotate(-45 232.31 364.34)"><tspan>sk</tspan><tspan dx="0.9">i</tspan><tspan dx="0.9">n</tspan></text>
<line x1="246.57" y1="309.28" x2="246.57" y2="322.72" class="eb"/>
<line x1="244.67" y1="309.28" x2="248.47" y2="309.28" class="eb cap"/>
<rect x="244.42" y="322.72" width="4.30" height="32.48" fill="#fff" class="bar"/>
<line x1="252.97" y1="332.86" x2="252.97" y2="337.33" class="eb"/>
<line x1="251.07" y1="332.86" x2="254.87" y2="332.86" class="eb cap"/>
<rect x="250.72" y="337.33" width="4.50" height="17.87" fill="url(#hC)" class="bar"/>
<line x1="249.57" y1="355.20" x2="249.57" y2="359.00" class="ax"/>
<text id="labC11" x="251.67" y="365.00" class="xl" text-anchor="end" textLength="20.29" lengthAdjust="spacingAndGlyphs" transform="rotate(-45 251.67 365.00)">SW 620</text>
</svg>
</body></html>
